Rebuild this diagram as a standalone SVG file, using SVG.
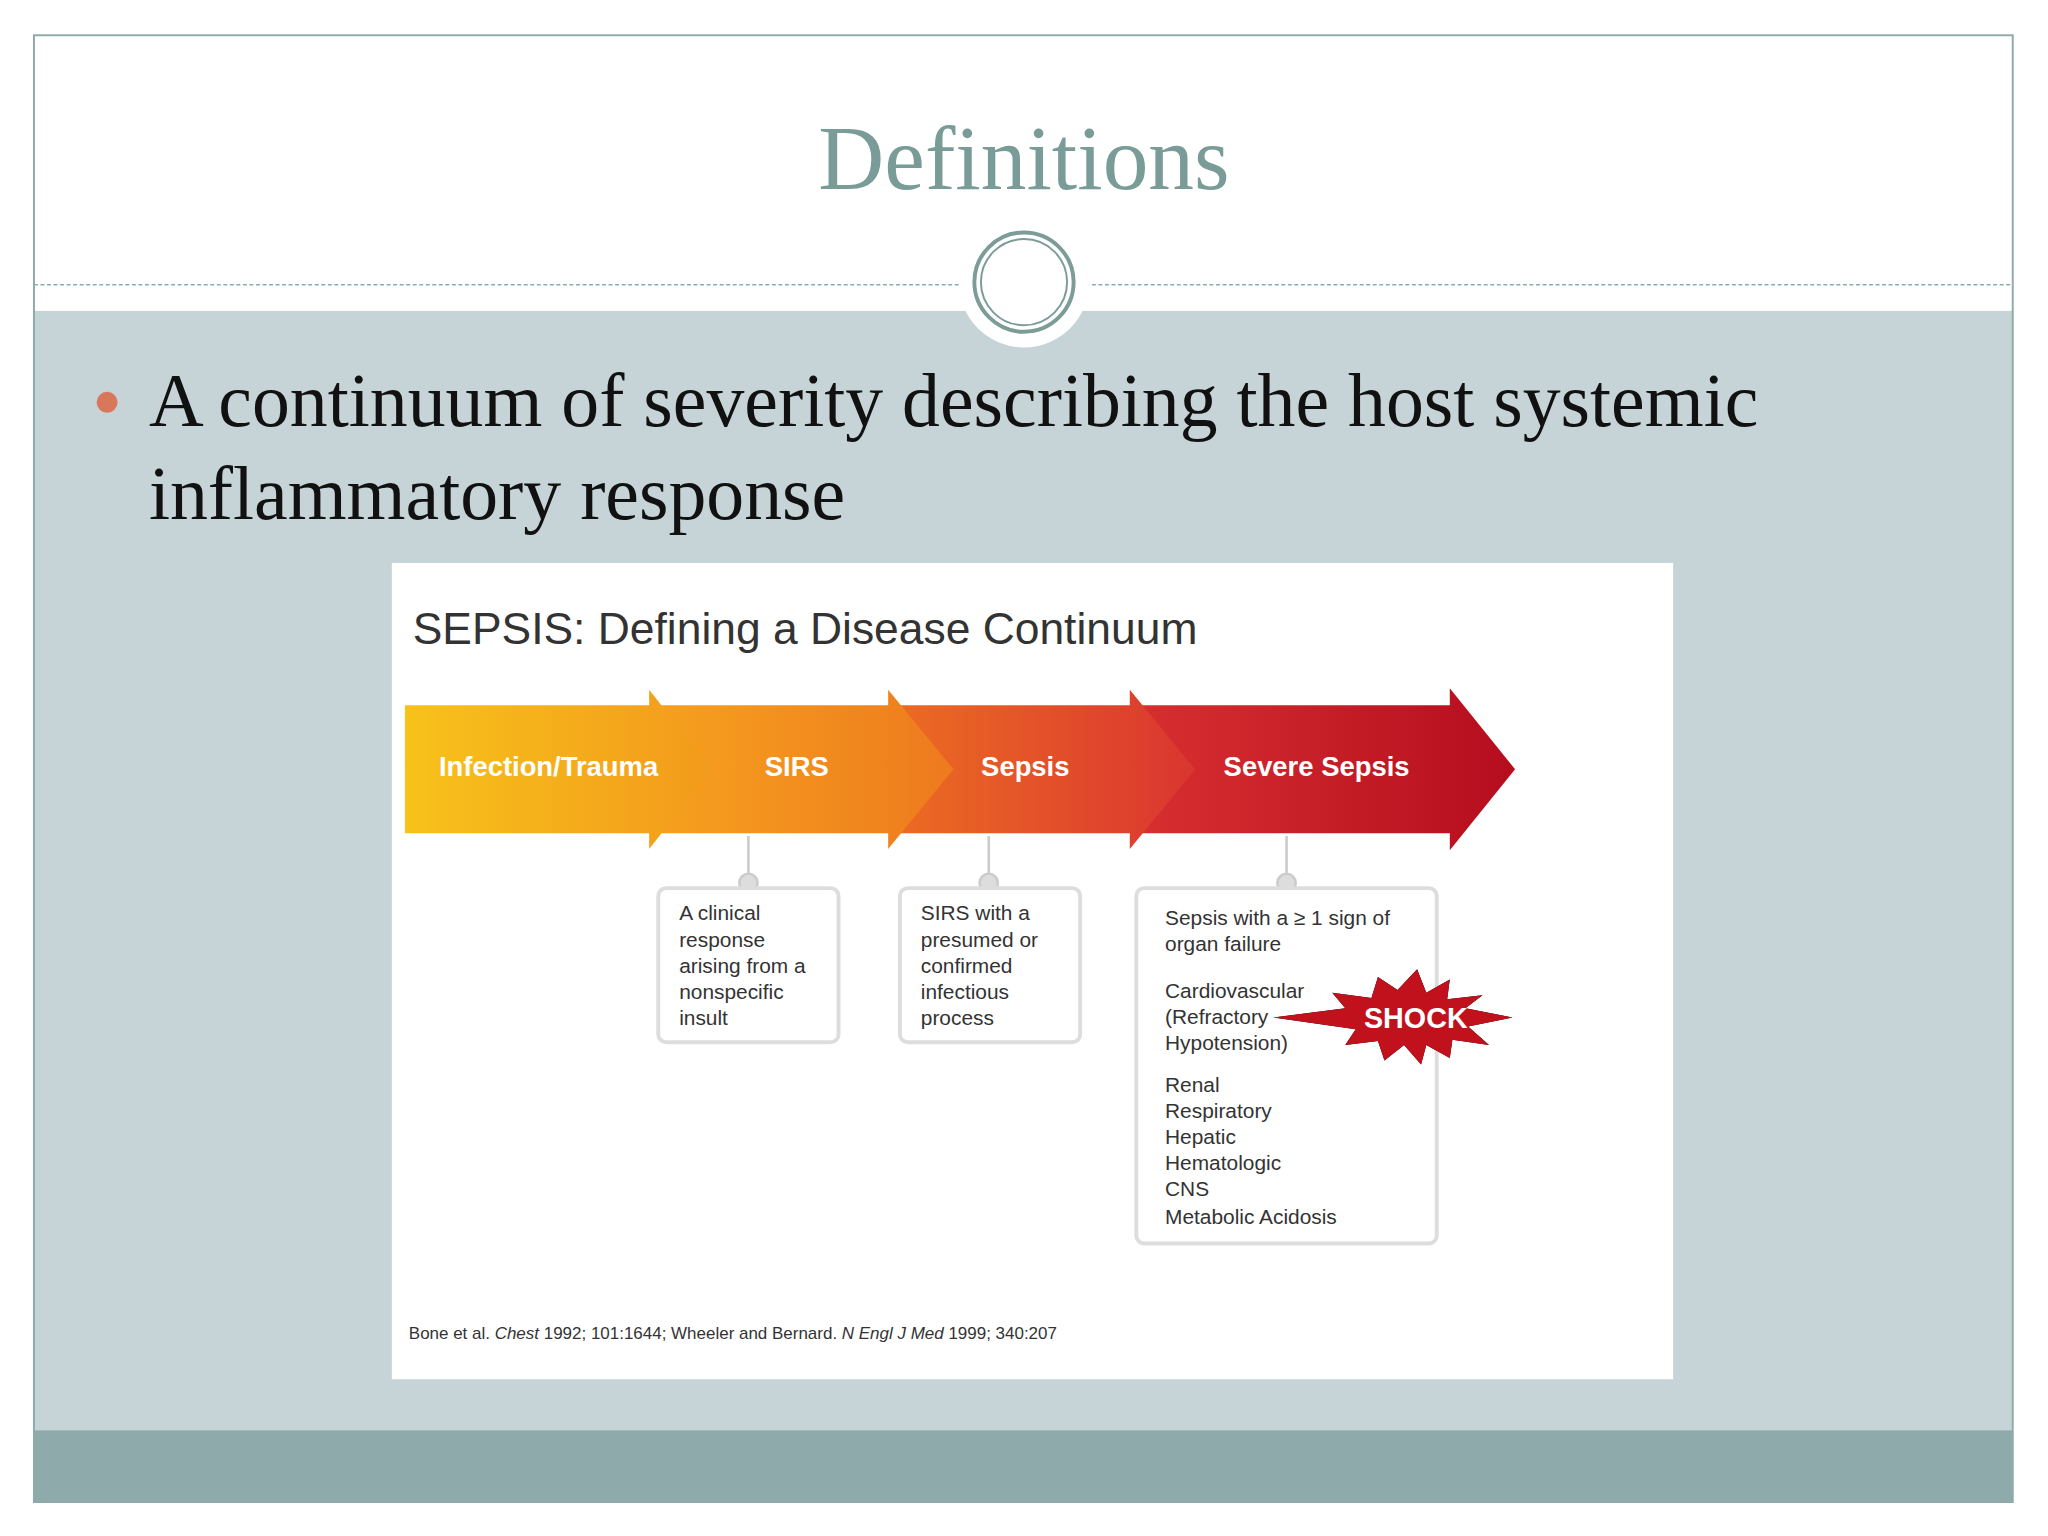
<svg xmlns="http://www.w3.org/2000/svg" width="2048" height="1536" viewBox="0 0 2048 1536">
<style>
.t{font-family:"Liberation Sans",Arial,sans-serif;fill:#333}
.s{font-size:16px}
.al{font-family:"Liberation Sans",Arial,sans-serif;font-weight:bold;font-size:21px;fill:#fff;text-anchor:middle}
.box{fill:#fff;stroke:#ddd;stroke-width:3}
.con{stroke:#ccc;stroke-width:2;fill:#ddd}
</style>
<defs>
<linearGradient id="g1" x1="0" x2="1"><stop offset="0" stop-color="#f7c21a"/><stop offset="1" stop-color="#f39a1c"/></linearGradient>
<linearGradient id="g2" x1="0" x2="1"><stop offset="0" stop-color="#f6a21e"/><stop offset="1" stop-color="#ee7a1e"/></linearGradient>
<linearGradient id="g3" x1="0" x2="1"><stop offset="0" stop-color="#ec6d22"/><stop offset="1" stop-color="#da3530"/></linearGradient>
<linearGradient id="g4" x1="0" x2="1"><stop offset="0" stop-color="#d83030"/><stop offset="1" stop-color="#b50d1e"/></linearGradient>
</defs>
<rect width="2048" height="1536" fill="#fff"/>
<g transform="scale(1.30612)">
<rect x="26" y="238" width="1515" height="857" fill="#c6d4d8"/>
<rect x="26" y="1095" width="1515" height="55" fill="#8faaaa"/>
<rect x="26" y="27" width="1515" height="1123" fill="none" stroke="#8faaaa" stroke-width="1.5"/>
<line x1="26" y1="218" x2="1541" y2="218" stroke="#8faaaa" stroke-width="1" stroke-dasharray="3,2"/>
<circle cx="784" cy="216" r="50" fill="#fff"/>
<circle cx="784" cy="216" r="38" fill="none" stroke="#7c9c98" stroke-width="3"/>
<circle cx="784" cy="216" r="33" fill="none" stroke="#7c9c98" stroke-width="1.5"/>
<text x="784" y="145" text-anchor="middle" font-family="Liberation Serif,serif" font-size="70" fill="#7a9c98">Definitions</text>
<circle cx="82" cy="308" r="8" fill="#d9775a"/>
<text font-family="Liberation Serif,serif" font-size="58" fill="#111"><tspan x="114" y="326">A continuum of severity describing the host systemic</tspan><tspan x="114" y="397">inflammatory response</tspan></text>
<rect x="300" y="431" width="981" height="625" fill="#fff"/>
<text x="316" y="493" class="t" font-size="34">SEPSIS: Defining a Disease Continuum</text>
<g id="connectors">
<line x1="573" y1="640" x2="573" y2="680" class="con"/><circle cx="573" cy="676" r="7" class="con"/>
<line x1="757" y1="640" x2="757" y2="680" class="con"/><circle cx="757" cy="676" r="7" class="con"/>
<line x1="985" y1="640" x2="985" y2="680" class="con"/><circle cx="985" cy="676" r="7" class="con"/>
</g>
<g id="arrow4"><polygon points="865,540 1110,540 1110,527 1160,589 1110,651 1110,638 865,638" fill="url(#g4)"/><text x="1008" y="594" class="al">Severe Sepsis</text></g>
<g id="arrow3"><polygon points="680,540 865,540 865,528 915,589 865,650 865,638 680,638" fill="url(#g3)"/><text x="785" y="594" class="al">Sepsis</text></g>
<g id="arrow2"><polygon points="497,540 680,540 680,528 730,589 680,650 680,638 497,638" fill="url(#g2)"/><text x="610" y="594" class="al">SIRS</text></g>
<g id="arrow1"><polygon points="310,540 497,540 497,528 545,589 497,650 497,638 310,638" fill="url(#g1)"/><text x="420" y="594" class="al">Infection/Trauma</text></g>
<g id="box1"><rect x="504" y="680" width="138" height="118" rx="6" class="box"/>
<text class="t s"><tspan x="520" y="704">A clinical</tspan><tspan x="520" y="725">response</tspan><tspan x="520" y="745">arising from a</tspan><tspan x="520" y="765">nonspecific</tspan><tspan x="520" y="785">insult</tspan></text></g>
<g id="box2"><rect x="689" y="680" width="138" height="118" rx="6" class="box"/>
<text class="t s"><tspan x="705" y="704">SIRS with a</tspan><tspan x="705" y="725">presumed or</tspan><tspan x="705" y="745">confirmed</tspan><tspan x="705" y="765">infectious</tspan><tspan x="705" y="785">process</tspan></text></g>
<g id="box3"><rect x="870" y="680" width="230" height="272" rx="6" class="box"/>
<text class="t s"><tspan x="892" y="708">Sepsis with a ≥ 1 sign of</tspan><tspan x="892" y="728">organ failure</tspan><tspan x="892" y="764">Cardiovascular</tspan><tspan x="892" y="784">(Refractory</tspan><tspan x="892" y="804">Hypotension)</tspan><tspan x="892" y="836">Renal</tspan><tspan x="892" y="856">Respiratory</tspan><tspan x="892" y="876">Hepatic</tspan><tspan x="892" y="896">Hematologic</tspan><tspan x="892" y="916">CNS</tspan><tspan x="892" y="937">Metabolic Acidosis</tspan></text></g>
<g id="shock">
<polygon points="975,779 1030,772 1020,760 1050,764 1055,748 1070,758 1085,742 1092,760 1110,750 1108,765 1135,762 1122,772 1158,779 1124,786 1140,800 1112,796 1110,810 1092,800 1088,815 1075,800 1060,812 1055,797 1030,800 1038,788"/>
<polygon points="975,779 1030,772 1020,760 1050,764 1055,748 1070,758 1085,742 1092,760 1110,750 1108,765 1135,762 1122,772 1158,779 1124,786 1140,800 1112,796 1110,810 1092,800 1088,815 1075,800 1060,812 1055,797 1030,800 1038,788" fill="#c0111d"/>
<text x="1084" y="787" text-anchor="middle" font-family="Liberation Sans,Arial,sans-serif" font-weight="bold" font-size="22" fill="#fff">SHOCK</text></g>
<text x="313" y="1025" class="t" font-size="13">Bone et al. <tspan font-style="italic">Chest</tspan> 1992; 101:1644; Wheeler and Bernard. <tspan font-style="italic">N Engl J Med</tspan> 1999; 340:207</text>
</g>
</svg>
